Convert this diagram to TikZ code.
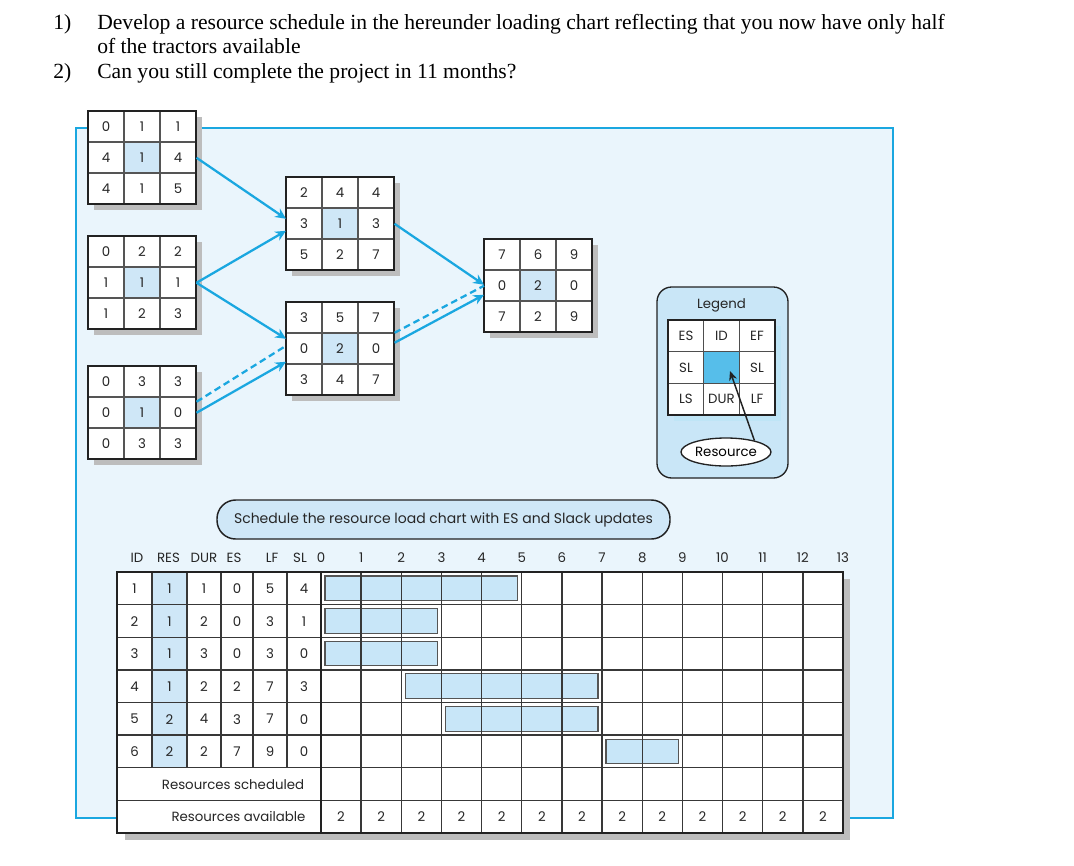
\documentclass[tikz,border=0pt]{standalone}
\usepackage{fontspec}
\setmainfont{Liberation Serif}
\newfontfamily\dg{Poppins}
\usetikzlibrary{arrows.meta,calc,shapes.geometric}
\definecolor{frameblue}{HTML}{1AA7E0}
\definecolor{framefill}{HTML}{EAF5FC}
\definecolor{cellblue}{HTML}{CFE7F7}
\definecolor{legfill}{HTML}{C9E6F7}
\definecolor{legcenter}{HTML}{56BEEA}
\definecolor{barfill}{HTML}{C8E6F8}
\definecolor{shadegray}{HTML}{BDBDBD}
\definecolor{linegray}{HTML}{555555}
\definecolor{darkline}{HTML}{222222}
\tikzset{
  netwhite/.style={fill=white,draw=none,inner sep=0pt,minimum width=81pt,minimum height=69.75pt},
  innerline/.style={draw=linegray,line width=0.8pt},
  outerline/.style={draw=darkline,line width=1.5pt},
  celltxt/.style={font=\dg\fontsize{10}{12}\selectfont,inner sep=0pt,text=black!85},
  flow/.style={draw=frameblue,line width=1.7pt,-{Stealth[length=8pt,width=7.5pt]}},
  flowdash/.style={draw=frameblue,line width=1.7pt,dash pattern=on 5pt off 3pt},
  hdr/.style={font=\dg\fontsize{10}{12}\selectfont,inner sep=0pt,text=black!85},
  bar/.style={fill=barfill,draw=linegray,line width=0.9pt},
  qtxt/.style={font=\fontsize{16.2}{19}\selectfont,inner sep=0pt,anchor=base west},
}
\newcommand\netbox[6]{%
  \fill[shadegray] (#2+6,#3+6) rectangle ++(108,93);
  \node[netwhite,anchor=north west] (#1) at (#2,#3) {};
  \fill[cellblue] (#2+36,#3+31) rectangle ++(36,31);
  \draw[innerline] (#2+36,#3) -- ++(0,93) (#2+72,#3) -- ++(0,93) (#2,#3+31) -- ++(108,0) (#2,#3+62) -- ++(108,0);
  \draw[outerline] (#2,#3) rectangle ++(108,93);
  \foreach \v [count=\i from 0] in {#4} \node[celltxt] (#1-a\i) at (#2+18+36*\i,#3+16) {\v};
  \foreach \v [count=\i from 0] in {#5} \node[celltxt] (#1-b\i) at (#2+18+36*\i,#3+47) {\v};
  \foreach \v [count=\i from 0] in {#6} \node[celltxt] (#1-c\i) at (#2+18+36*\i,#3+78) {\v};
}
\begin{document}
\begin{tikzpicture}[x=0.75pt,y=-0.75pt]
\useasboundingbox[fill=white] (0,0) rectangle (1074,865);

% question text
\node[qtxt] (q1n) at (53,29) {1)};
\node[qtxt] (q1) at (97,29) {Develop a resource schedule in the hereunder loading chart reflecting that you now have only half};
\node[qtxt] (q1b) at (97,53) {of the tractors available};
\node[qtxt] (q2n) at (53,78) {2)};
\node[qtxt] (q2) at (97,78) {Can you still complete the project in 11 months?};

% frame
\draw[frameblue,fill=framefill,line width=1.5pt] (76,128) rectangle (893,818);

% network boxes
\netbox{n1}{88}{111}{0,1,1}{4,1,4}{4,1,5}
\netbox{n2}{88}{236}{0,2,2}{1,1,1}{1,2,3}
\netbox{n3}{88}{366}{0,3,3}{0,1,0}{0,3,3}
\netbox{n4}{286}{177}{2,4,4}{3,1,3}{5,2,7}
\netbox{n5}{286}{302}{3,5,7}{0,2,0}{3,4,7}
\netbox{n6}{484}{239}{7,6,9}{0,2,0}{7,2,9}

% connectors
\draw[flow] (n1.east) -- ($(n4.west)+(0,-5)$);
\draw[flow] (n2.east) -- ($(n4.west)+(0,7)$);
\draw[flow] (n2.east) -- ($(n5.west)+(0,-10)$);
\draw[flowdash] ($(n3.east)+(0,-11)$) -- ($(n5.west)+(0,-3)$);
\draw[flow] (n3.east) -- ($(n5.west)+(0,13)$);
\draw[flow] (n4.east) -- ($(n6.west)+(0,-1)$);
\draw[flowdash] ($(n5.east)+(0,-16)$) -- ($(n6.west)+(0,0)$);
\draw[flow] ($(n5.east)+(0,-6)$) -- ($(n6.west)+(0,9)$);

% legend
\node[draw=darkline,line width=1pt,fill=legfill,rounded corners=11pt,minimum width=98.25pt,minimum height=143.25pt,inner sep=0pt] (legend) at (722.5,382.5) {};
\node[hdr] (legtitle) at (721.5,305) {Legend};
\fill[legfill!70!frameblue!60] (674,326) rectangle (781,421);
\node[fill=white,inner sep=0pt,minimum width=80.25pt,minimum height=71.25pt,anchor=north west] (lg) at (668,320) {};
\fill[legcenter] (703.7,351.7) rectangle (739.3,383.3);
\draw[innerline,draw=darkline!80] (703.7,320) -- (703.7,415) (739.3,320) -- (739.3,415) (668,351.7) -- (775,351.7) (668,383.3) -- (775,383.3);
\draw[outerline] (668,320) rectangle (775,415);
\node[hdr] (lgES) at (686,336) {ES};
\node[hdr] (lgID) at (721.5,336) {ID};
\node[hdr] (lgEF) at (757,336) {EF};
\node[hdr] (lgSL1) at (686,367.5) {SL};
\node[hdr] (lgSL2) at (757,367.5) {SL};
\node[hdr] (lgLS) at (686,399) {LS};
\node[hdr] (lgDUR) at (721.5,399) {DUR};
\node[hdr] (lgLF) at (757,399) {LF};
\node[ellipse,draw=darkline,line width=1pt,fill=white,minimum width=67.5pt,minimum height=21pt,inner sep=0pt,font=\dg\fontsize{10}{12}\selectfont] (res) at (726,452) {Resource};
\coordinate (legtip) at (730,371);
\draw[darkline,line width=1.1pt,-{Stealth[length=7pt,width=6pt]}] (res.22) -- (legtip);

% banner
\node[draw=darkline,line width=1.1pt,fill=cellblue,rounded corners=14pt,minimum width=339.75pt,minimum height=29.25pt,inner sep=0pt,font=\dg\fontsize{10.5}{12}\selectfont,text=black!85] (banner) at (443.5,519.5) {Schedule the resource load chart with ES and Slack updates};

% header
\node[hdr] (hID) at (137,558) {ID};
\node[hdr] (hRES) at (168.5,558) {RES};
\node[hdr] (hDUR) at (204,558) {DUR};
\node[hdr] (hES) at (234,558) {ES};
\node[hdr] (hLF) at (272,558) {LF};
\node[hdr] (hSL) at (300,558) {SL};
\foreach \m in {0,...,13} \node[hdr] (hm\m) at (321+40.154*\m,558) {\m};

% table
\fill[shadegray] (125,579) rectangle (850,840);
\node[fill=white,inner sep=0pt,minimum width=544.5pt,minimum height=195.75pt,anchor=north west] (tbl) at (117,572) {};
\fill[cellblue] (152,572) rectangle (187,767.75);
% bars
\foreach \r/\s/\e in {1/0/5,2/0/3,3/0/3,4/2/7,5/3/7,6/7/9}
  \draw[bar] (321+40.154*\s+4,572+32.625*\r-32.625+4) rectangle (321+40.154*\e-4,572+32.625*\r-4);
% grid lines
\foreach \k in {1,...,7} \draw[innerline,draw=darkline!90,line width=1pt] (117,572+32.625*\k) -- (843,572+32.625*\k);
\foreach \xx in {152,187,221,253,287} \draw[innerline,draw=darkline!90,line width=1pt] (\xx,572) -- (\xx,767.75);
\foreach \m in {1,...,12} \draw[innerline,draw=darkline!90,line width=1pt] (321+40.154*\m,572) -- (321+40.154*\m,833);
\draw[darkline,line width=1.5pt] (321,572) -- (321,833);
\draw[outerline] (117,572) rectangle (843,833);
% table text
\foreach \r/\a/\b/\c/\d/\e/\f in {1/1/1/1/0/5/4,2/2/1/2/0/3/1,3/3/1/3/0/3/0,4/4/1/2/2/7/3,5/5/2/4/3/7/0,6/6/2/2/7/9/0}{
  \node[celltxt] (t\r a) at (134.5,572+32.625*\r-16) {\a};
  \node[celltxt] (t\r b) at (169.5,572+32.625*\r-16) {\b};
  \node[celltxt] (t\r c) at (204,572+32.625*\r-16) {\c};
  \node[celltxt] (t\r d) at (237,572+32.625*\r-16) {\d};
  \node[celltxt] (t\r e) at (270,572+32.625*\r-16) {\e};
  \node[celltxt] (t\r f) at (304,572+32.625*\r-16) {\f};
}
\node[celltxt] (rsched) at (233,785) {Resources scheduled};
\node[celltxt] (ravail) at (238.5,816) {Resources available};
\foreach \m in {0,...,12} \node[celltxt] (av\m) at (321+40.154*\m+20.077,816.5) {2};
\end{tikzpicture}
\end{document}
